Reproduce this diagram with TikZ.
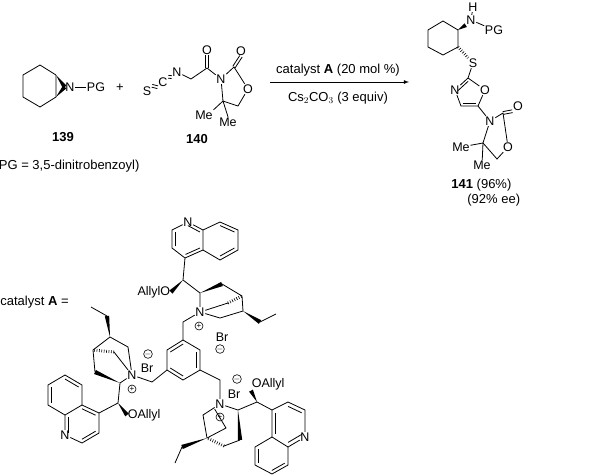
\documentclass[tikz,border=0pt]{standalone}
\usepackage{fontspec}
\setmainfont{Liberation Sans}
\usetikzlibrary{calc}
\newcommand\wdg[2]{\fill ($#1$) -- ($#2!2.2pt!90:#1$) -- ($#2!2.2pt!-90:#1$) -- cycle;}
\newcommand\hsh[2]{\draw[line width=3pt,dash pattern=on .6pt off 1.8pt] ($#1$) -- ($#2$);}
\newcommand\dbi[3]{\draw ($#1!.2!#3$) -- ($#2!.2!#3$);}
\newcommand\dbo[2]{\draw ($#1!1.4pt!90:#2$) -- ($#2!1.4pt!-90:#1$); \draw ($#1!1.4pt!-90:#2$) -- ($#2!1.4pt!90:#1$);}
\begin{document}
\begin{tikzpicture}[x=1pt,y=-1pt,line width=0.8pt,
 atm/.style={inner sep=0.4pt,fill=white,font=\fontsize{12.5}{13}\selectfont},
 txt/.style={inner sep=0pt,font=\fontsize{13}{15}\selectfont},
 chg/.style={circle,draw,line width=0.6pt,inner sep=0pt,minimum size=8pt,font=\fontsize{8}{8}\selectfont}]
\useasboundingbox (0,0) rectangle (610,475);
%% 139
\foreach \n/\p in {a1/{23,75},a2/{40,65},a3/{56,75},a4/{56,97},a5/{40,107},a6/{23,97}} \coordinate (\n) at (\p);
\draw (a3)--(a2)--(a1)--(a6)--(a5)--(a4)--(a3);
\node[atm] (aN) at (70,87) {N};
\node[atm] (aPG) at (96,87) {PG};
\wdg{(a3)}{(aN.west)}\wdg{(a4)}{(aN.west)}
\draw (aN)--(aPG);
\node[txt] (plus) at (120,88) {+};
%% 140
\node[atm] (bS) at (147,91) {S};
\node[atm] (bC) at (163,82) {C};
\node[atm] (bN) at (177,72) {N};
\coordinate (b1) at (191,79); \coordinate (b2) at (207,68);
\node[atm] (bO) at (207,50) {O};
\node[atm] (bNr) at (221,79) {N};
\coordinate (b3) at (234,67);
\node[atm] (bOx) at (241,51) {O};
\node[atm] (bOr) at (248,89) {O};
\coordinate (b5) at (238,106); \coordinate (b4) at (223,101);
\node[atm] (bMe1) at (204,115) {Me};
\node[atm] (bMe2) at (228,122) {Me};
\dbo{(bS.north east)}{(bC.south west)}
\dbo{(bC.north east)}{(bN.south west)}
\draw (bN)--(b1)--(b2)--(bNr)--(b3)--(bOr)--(b5)--(b4)--(bNr);
\dbo{(b2)}{(bO.south)}
\dbo{(b3)}{(bOx.south)}
\draw (b4)--(bMe1.north east); \draw (b4)--(bMe2.north);
\node[txt,font=\fontsize{13}{15}\selectfont\bfseries] (l139) at (63,137) {139};
\node[txt,font=\fontsize{13}{15}\selectfont\bfseries] (l140) at (197,139) {140};
\node[txt] (pgdef) at (67,166) {(PG = 3,5-dinitrobenzoyl)};
%% arrow
\coordinate (r1) at (270,82); \coordinate (r2) at (409,82);
\draw[-{latex}] (r1)--(r2);
\node[txt] (cond1) at (338,70) {catalyst \textbf{A} (20 mol \%)};
\node[txt] (cond2) at (338,98) {Cs$_2$CO$_3$ (3 equiv)};
%% 141
\foreach \n/\p in {c1/{443,21},c2/{458,30},c3/{458,47},c4/{443,55},c5/{428,47},c6/{428,30}} \coordinate (\n) at (\p);
\draw (c1)--(c2)--(c3)--(c4)--(c5)--(c6)--(c1);
\node[atm] (cN) at (471,20) {N};
\node[atm] (cH) at (473,7) {H};
\node[atm] (cPG) at (494,30) {PG};
\wdg{(c2)}{(cN.south west)}
\draw (cN)--(cH); \draw (cN)--(cPG);
\node[atm] (cS) at (473,63) {S};
\hsh{(c3)}{(cS.north west)}
\coordinate (d2) at (468,78); \node[atm] (dO) at (485,90) {O};
\coordinate (d5) at (478,106); \coordinate (d4) at (461,106);
\node[atm] (dN) at (455,90) {N};
\draw (cS)--(d2)--(dO)--(d5)--(d4)--(dN)--(d2);
\coordinate (dc) at (469,94);
\dbi{(d2)}{(dN)}{(dc)} \dbi{(d4)}{(d5)}{(dc)}
\node[atm] (eN) at (490,121) {N};
\coordinate (e2) at (503,113); \node[atm] (eOx) at (518,106) {O};
\node[atm] (eOr) at (508,147) {O};
\coordinate (e5) at (497,159); \coordinate (e4) at (483,143);
\node[atm] (eMe1) at (461,147) {Me};
\node[atm] (eMe2) at (482,165) {Me};
\draw (d5)--(eN)--(e2)--(eOr)--(e5)--(e4)--(eN);
\dbo{(e2)}{(eOx.south west)}
\draw (e4)--(eMe1); \draw (e4)--(eMe2);
\node[txt,anchor=west] (l141) at (451,185) {\textbf{141} (96\%)};
\node[txt,anchor=west] (ee) at (467,200) {(92\% ee)};
%% catalyst label
\node[txt,anchor=west] (catA) at (0,302) {catalyst \textbf{A} =};
%% central benzene
\foreach \n/\p in {p1/{183,340},p2/{200,350},p3/{200,370},p4/{183,380},p5/{167,370},p6/{167,350}} \coordinate (\n) at (\p);
\coordinate (pc) at (183.5,360);
\draw (p1)--(p2)--(p3)--(p4)--(p5)--(p6)--(p1);
\dbi{(p2)}{(p3)}{(pc)} \dbi{(p4)}{(p5)}{(pc)} \dbi{(p6)}{(p1)}{(pc)}
%% top unit
\node[atm] (tN) at (200,312) {N};
\node[chg] (tP) at (199,326) {+};
\coordinate (tm) at (183,322);
\draw (p1)--(tm)--(tN);
\coordinate (t8) at (200,293); \coordinate (t9) at (183,280);
\coordinate (t7) at (222,284); \coordinate (t4) at (242,296);
\coordinate (t3) at (243,311); \coordinate (t6) at (220,318);
\coordinate (t5) at (228,303);
\coordinate (te1) at (260,322); \coordinate (te2) at (276,314);
\draw (tN)--(t8)--(t9);
\wdg{(t8)}{(t7)}
\draw (t7)--(t4)--(t3)--(t6)--(tN);
\draw (tN)--(t5); \hsh{(t5)}{(t4)}
\wdg{(t3)}{(te1)} \draw (te1)--(te2);
\node[atm,anchor=east] (tO) at (171,292) {AllylO};
\wdg{(t9)}{(tO.east)}
\foreach \n/\p in {q1/{185,258},q2/{172,248},q3/{172,230},q5/{203,230},q6/{203,250},q7/{220,222},q8/{238,230},q9/{238,250},q10/{220,260}} \coordinate (\n) at (\p);
\node[atm] (qN) at (188,222) {N};
\coordinate (qc) at (187.5,240); \coordinate (qd) at (220.5,240);
\draw (t9)--(q1)--(q2)--(q3)--(qN)--(q5)--(q6)--(q1);
\draw (q5)--(q7)--(q8)--(q9)--(q10)--(q6);
\dbi{(q2)}{(q3)}{(qc)} \dbi{(q1)}{(q6)}{(qc)} \dbi{(qN)}{(q5)}{(qc)}
\dbi{(q7)}{(q8)}{(qd)} \dbi{(q9)}{(q10)}{(qd)}
\node[atm] (tBr) at (222,337) {Br};
\node[chg] (tBrm) at (220,349) {$-$};
%% left unit
\node[atm] (lN) at (132,375) {N};
\node[chg] (lP) at (132,389) {+};
\coordinate (lm) at (152,382);
\draw (p5)--(lm)--(lN);
\coordinate (l8) at (120,383); \coordinate (l9) at (118,403);
\coordinate (l7) at (95,372); \coordinate (l6) at (93,350);
\coordinate (l4) at (110,337); \coordinate (l5) at (128,347);
\coordinate (l3) at (114,352);
\coordinate (le1) at (107,316); \coordinate (le2) at (91,307);
\draw (lN)--(l8)--(l9);
\wdg{(l8)}{(l7)}
\draw (l7)--(l6)--(l4)--(l5)--(lN);
\draw (lN)--(l3); \hsh{(l3)}{(l6)}
\wdg{(l4)}{(le1)} \draw (le1)--(le2);
\node[atm,anchor=west] (lO) at (127,415) {OAllyl};
\wdg{(l9)}{(lO.west)}
\foreach \n/\p in {m1/{99,413},m2/{99,433},m3/{82,443},m5/{65,415},m6/{82,405},m7/{82,385},m8/{65,375},m9/{48,385},m10/{48,405}} \coordinate (\n) at (\p);
\node[atm] (mN) at (65,435) {N};
\coordinate (mc) at (82,424); \coordinate (md) at (65,395);
\draw (l9)--(m1)--(m2)--(m3)--(mN)--(m5)--(m6)--(m1);
\draw (m6)--(m7)--(m8)--(m9)--(m10)--(m5);
\dbi{(m2)}{(m3)}{(mc)} \dbi{(m1)}{(m6)}{(mc)} \dbi{(mN)}{(m5)}{(mc)}
\dbi{(m7)}{(m8)}{(md)} \dbi{(m9)}{(m10)}{(md)}
\node[atm] (lBr) at (147,368) {Br};
\node[chg] (lBrm) at (148,354) {$-$};
%% bottom unit
\node[atm] (bbN) at (220,404) {N};
\node[chg] (bbP) at (220,417) {+};
\coordinate (bm1) at (220,380);
\draw (p3)--(bm1)--(bbN);
\coordinate (g8) at (238,410); \coordinate (g9) at (257,402);
\coordinate (g7) at (240,440); \coordinate (g6) at (224,446);
\coordinate (g4) at (207,438); \coordinate (g5) at (203,415);
\coordinate (g3) at (226,428);
\coordinate (ge1) at (182,447); \coordinate (ge2) at (175,463);
\draw (bbN)--(g8)--(g9);
\wdg{(g8)}{(g7)}
\draw (g7)--(g6); \hsh{(g6)}{(g4)}
\draw (bbN)--(g5)--(g4);
\draw (bbN.south west)--(g3)--(g4);
\wdg{(g4)}{(ge1)} \draw (ge1)--(ge2);
\node[atm,anchor=west] (gO) at (251,384) {OAllyl};
\wdg{(g9)}{(gO.south west)}
\foreach \n/\p in {k1/{272,410},k2/{288,402},k3/{305,410},k5/{288,447},k6/{272,437},k7/{255,447},k8/{255,465},k9/{272,474},k10/{288,465}} \coordinate (\n) at (\p);
\node[atm] (kN) at (305,437) {N};
\coordinate (kc) at (288.5,424); \coordinate (kd) at (271.5,456);
\draw (g9)--(k1)--(k2)--(k3)--(kN)--(k5)--(k6)--(k1);
\draw (k6)--(k7)--(k8)--(k9)--(k10)--(k5);
\dbi{(k2)}{(k3)}{(kc)} \dbi{(k1)}{(k6)}{(kc)} \dbi{(kN)}{(k5)}{(kc)}
\dbi{(k7)}{(k8)}{(kd)} \dbi{(k9)}{(k10)}{(kd)}
\node[atm] (gBr) at (234,394) {Br};
\node[chg] (gBrm) at (237,379) {$-$};
\end{tikzpicture}
\end{document}
